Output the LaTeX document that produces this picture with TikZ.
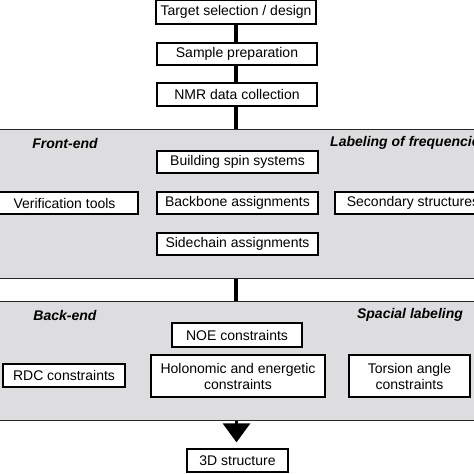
\documentclass[tikz,border=0pt]{standalone}
\usepackage{fontspec}
\setmainfont{Liberation Sans}
\usetikzlibrary{arrows.meta}
\definecolor{panelgray}{RGB}{221,221,223}
\tikzset{
  stepbox/.style={draw=black, line width=1.3pt, fill=white, inner sep=0pt,
    minimum height=23pt, align=center, font=\fontsize{14}{16}\selectfont},
  panel/.style={draw=black!85, line width=1pt, fill=panelgray, inner sep=0pt, minimum width=520pt},
  heading/.style={font=\fontsize{14}{16}\selectfont\bfseries\itshape, inner sep=0pt},
  link/.style={line width=3.2pt, black},
  bigarrow/.style={line width=3.2pt, black, -{Triangle[width=27pt,length=19pt]}}
}
\begin{document}
\begin{tikzpicture}[x=1pt,y=-1pt]
\useasboundingbox (0,0) rectangle (474,474);
% top chain
\node[stepbox, minimum width=160pt, minimum height=24pt] (target) at (236,12) {Target selection / design};
\node[stepbox, minimum width=160pt, minimum height=22pt] (sample) at (237,54) {Sample preparation};
\node[stepbox, minimum width=160pt] (nmr) at (237,94.5) {NMR data collection};
% panels
\node[panel, minimum height=149pt] (p1) at (237,203.5) {};
\node[panel, minimum height=119pt] (p2) at (237,360.5) {};
% connectors
\draw[link] (target.south -| 236,0) -- (sample.north -| 236,0);
\draw[link] (sample.south -| 236,0) -- (nmr.north -| 236,0);
\draw[link] (nmr.south -| 236,0) -- (p1.north -| 236,0);
\draw[link] (p1.south -| 236,0) -- (p2.north -| 236,0);
% panel 1 contents
\node[heading] (fe) at (65,143) {Front-end};
\node[heading, anchor=west] (lf) at (330,143) {Labeling of frequencies};
\node[stepbox, minimum width=161pt, minimum height=22pt] (spin) at (237.5,162) {Building spin systems};
\node[stepbox, minimum width=147pt, minimum height=22pt] (verif) at (64.5,203) {Verification tools};
\node[stepbox, minimum width=161pt, minimum height=22pt] (backbone) at (237.5,203) {Backbone assignments};
\node[stepbox, minimum width=156pt, minimum height=22pt] (secondary) at (413,203) {Secondary structures};
\node[stepbox, minimum width=161pt, minimum height=22pt] (side) at (237.5,244) {Sidechain assignments};
% panel 2 contents
\node[heading] (be) at (65,315) {Back-end};
\node[heading] (sl) at (410,315) {Spacial labeling};
\node[stepbox, minimum width=130pt, minimum height=24pt] (noe) at (237,335) {NOE constraints};
\node[stepbox, minimum width=122pt] (rdc) at (64,375.5) {RDC constraints};
\node[stepbox, minimum width=174pt, minimum height=42pt] (holo) at (238,376) {Holonomic and energetic\\constraints};
\node[stepbox, minimum width=121pt, minimum height=42pt] (tors) at (409.5,376) {Torsion angle\\constraints};
% result
\node[stepbox, minimum width=101pt] (d3) at (237.5,460.5) {3D structure};
\draw[bigarrow, shorten >=6pt] (p2.south -| 236.5,0) -- (d3.north -| 236.5,0);
\end{tikzpicture}
\end{document}
